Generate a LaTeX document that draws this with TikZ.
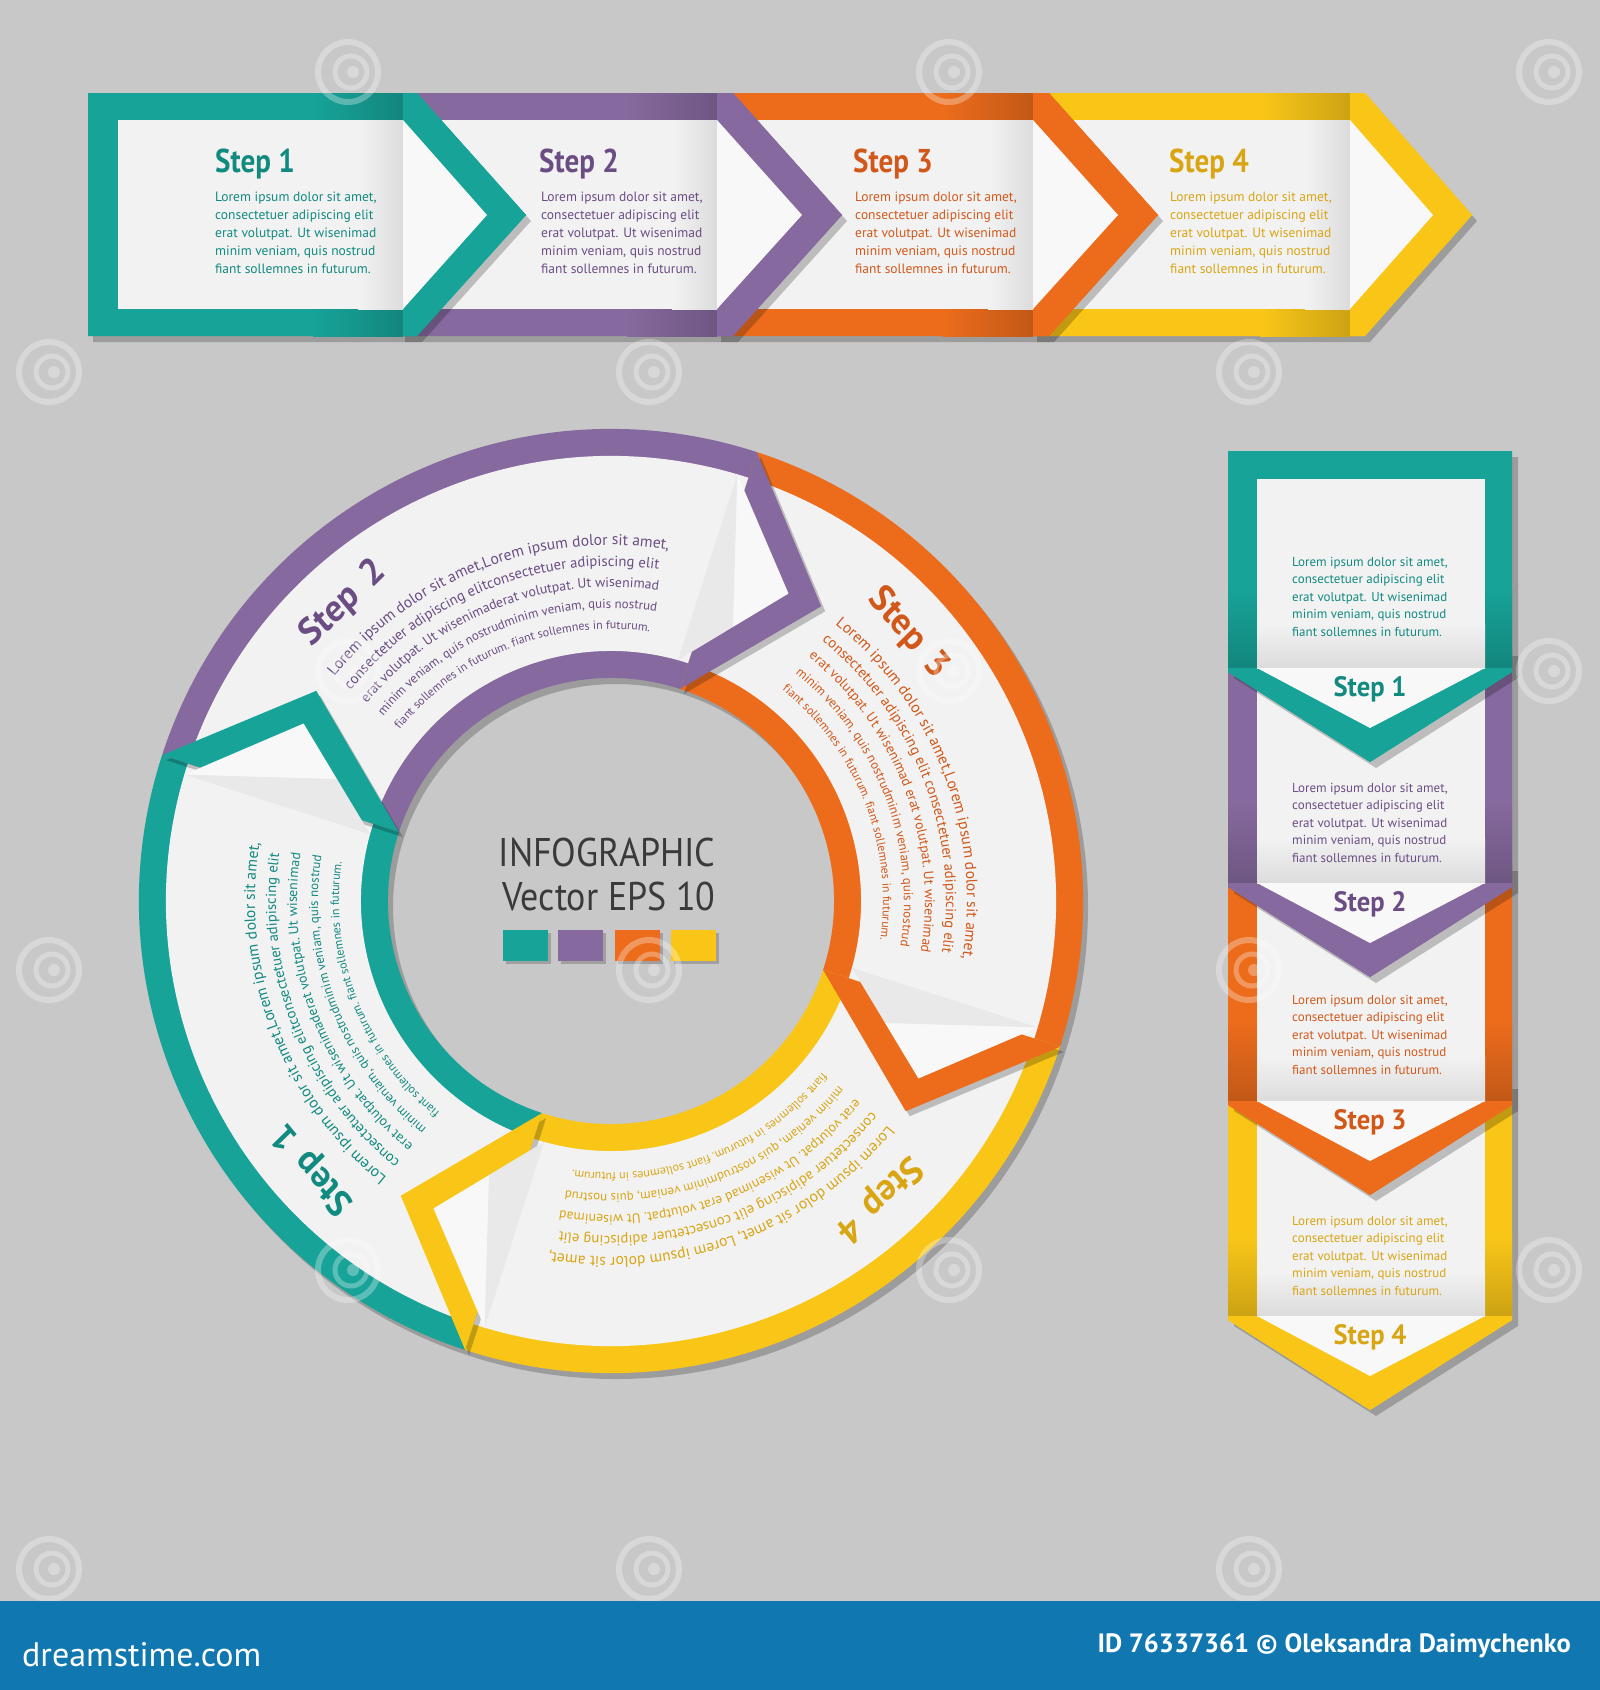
\documentclass[tikz,border=0pt]{standalone}
\usepackage{fontspec}
\setmainfont{PT Sans}
\usetikzlibrary{decorations.text}
\definecolor{bg}{HTML}{C8C8C8}
\definecolor{cteal}{HTML}{17A398}
\definecolor{cpurple}{HTML}{86699E}
\definecolor{corange}{HTML}{EC6C1C}
\definecolor{cyellow}{HTML}{F9C618}
\definecolor{tteal}{HTML}{118A80}
\definecolor{tpurple}{HTML}{6B4D84}
\definecolor{torange}{HTML}{D2581A}
\definecolor{tyellow}{HTML}{D9A513}
\definecolor{paper}{HTML}{F2F2F2}
\definecolor{paperlight}{HTML}{F8F8F8}
\definecolor{paperdark}{HTML}{DCDCDC}
\definecolor{banner}{HTML}{1077B0}
\definecolor{darktext}{HTML}{3A3A3A}
\newcommand\loremtext{Lorem ipsum dolor sit amet,\\consectetuer adipiscing elit\\erat volutpat. Ut wisenimad\\minim veniam, quis nostrud\\fiant sollemnes in futurum.}
\newcommand\ringline[5]{\path[decorate,decoration={text along path,text align=left,text={|\fontsize{#3}{#3}\selectfont\color{#4}|#5}}] (#1:#2) arc[start angle=#1,end angle=#1-100,radius=#2];}
\newcommand\wmark[2]{\draw[white,opacity=.3,line width=6] (#1,-#2) circle (30);\draw[white,opacity=.3,line width=5] (#1+3,-#2) circle (16);\fill[white,opacity=.3] (#1+5,-#2) circle (6);}
\tikzset{
  steplbl/.style={font=\bfseries\fontsize{33}{33}\selectfont, inner sep=0pt, xscale=.88},
  bodytxt/.style={anchor=north west, align=left, inner sep=0pt, font=\fontsize{13.5}{18}\selectfont},
  vlbl/.style={font=\bfseries\fontsize{28}{28}\selectfont, inner sep=0pt, xscale=.95, anchor=base},
  vtxt/.style={anchor=north west, align=left, inner sep=0pt, font=\fontsize{13}{17.5}\selectfont},
  rlbl/.style={font=\bfseries\fontsize{38}{38}\selectfont, inner sep=0pt, xscale=.92},
  shadowfill/.style={fill=black, opacity=.22}
}
\begin{document}
\begin{tikzpicture}[x=1pt,y=1pt]
\useasboundingbox (0,0) rectangle (1600,-1690);
\fill[bg] (0,0) rectangle (1600,-1690);

% ---------------- top banner ----------------
\foreach \c/\L/\IL/\O/\T/\I/\Ti in {cyellow/1032/1032/1365/1472/1350/1433, corange/716/716/1049/1158/1033/1118, cpurple/400/400/733/842/717/802, cteal/88/118/417/526/403/487}{
  \fill[shadowfill] (\L+5,-99) -- (\O+5,-99) -- (\T+5,-221) -- (\O+5,-342) -- (\L+5,-342) -- cycle;
  \fill[\c] (\L,-93) -- (\O,-93) -- (\T,-215) -- (\O,-336) -- (\L,-336) -- cycle;
  \shade[left color=\c, right color=\c!82!black] (\I-90,-93) rectangle (\I,-120);
  \shade[left color=\c, right color=\c!82!black] (\I-90,-309) rectangle (\I,-336);
  \fill[\c] (\I,-93) -- (\O,-93) -- (\T,-215) -- (\O,-336) -- (\I,-336) -- (\I,-309) -- (\Ti,-215) -- (\I,-120) -- cycle;
  \fill[paper] (\IL,-120) rectangle (\I,-309);
  \shade[left color=paper, right color=paperdark] (\I-45,-120) rectangle (\I,-309);
  \fill[paperlight] (\I,-120) -- (\Ti,-215) -- (\I,-309) -- cycle;
}
\node[steplbl, text=tteal, anchor=base west] (hs1) at (215,-172) {Step 1};
\node[steplbl, text=tpurple, anchor=base west] (hs2) at (539,-172) {Step 2};
\node[steplbl, text=torange, anchor=base west] (hs3) at (853,-172) {Step 3};
\node[steplbl, text=tyellow, anchor=base west] (hs4) at (1169,-172) {Step 4};
\node[bodytxt, text=tteal] (hb1) at (215,-192) {\loremtext};
\node[bodytxt, text=tpurple] (hb2) at (541,-192) {\loremtext};
\node[bodytxt, text=torange] (hb3) at (855,-192) {\loremtext};
\node[bodytxt, text=tyellow] (hb4) at (1170,-192) {\loremtext};

% ---------------- vertical panel ----------------
\foreach \c/\Y/\Yi/\L in {cyellow/1083/1083/1316, corange/865/865/1101, cpurple/650/650/883, cteal/451/479/668}{
  \fill[shadowfill] (1234,-\Y-6) -- (1518,-\Y-6) -- (1518,-\L-10) -- (1376,-\L-100) -- (1234,-\L-10) -- cycle;
  \fill[\c] (1228,-\Y) -- (1512,-\Y) -- (1512,-\L-4) -- (1370,-\L-94) -- (1228,-\L-4) -- cycle;
  \shade[top color=\c, bottom color=\c!82!black] (1228,-\L+80) rectangle (1257,-\L);
  \shade[top color=\c, bottom color=\c!82!black] (1485,-\L+80) rectangle (1512,-\L);
  \fill[\c] (1228,-\L) -- (1257,-\L) -- (1370,-\L-60) -- (1485,-\L) -- (1512,-\L) -- (1512,-\L-4) -- (1370,-\L-94) -- (1228,-\L-4) -- cycle;
  \fill[paper] (1257,-\Yi) rectangle (1485,-\L);
  \shade[top color=paper, bottom color=paperdark] (1257,-\L+45) rectangle (1485,-\L);
  \fill[paperlight] (1257,-\L) -- (1485,-\L) -- (1370,-\L-60) -- cycle;
}
\node[vlbl, text=tteal] (vs1) at (1370,-696) {Step 1};
\node[vlbl, text=tpurple] (vs2) at (1370,-911) {Step 2};
\node[vlbl, text=torange] (vs3) at (1370,-1129) {Step 3};
\node[vlbl, text=tyellow] (vs4) at (1370,-1344) {Step 4};
\node[vtxt, text=tteal] (vb1) at (1292,-557) {\loremtext};
\node[vtxt, text=tpurple] (vb2) at (1292,-783) {\loremtext};
\node[vtxt, text=torange] (vb3) at (1292,-995) {\loremtext};
\node[vtxt, text=tyellow] (vb4) at (1292,-1216) {\loremtext};

% ---------------- ring ----------------
\begin{scope}[shift={(611,-901)}]
  \fill[shadowfill, even odd rule, shift={(5,-6)}] (0,0) circle (472) (0,0) circle (223);
  \foreach \c/\a/\b in {cteal/252/162, cpurple/162/72, corange/72/-18, cyellow/-18/-108}{
    \fill[\c] (\a:472) arc[start angle=\a, end angle=\b, radius=472] -- (\b:223) arc[start angle=\b, end angle=\a, radius=223] -- cycle;
    \fill[paper] (\a:445) arc[start angle=\a, end angle=\b, radius=445] -- (\b:250) arc[start angle=\b, end angle=\a, radius=250] -- cycle;
  }
  % text lines
  \ringline{231}{356}{15.6}{tteal}{Lorem ipsum dolor sit amet,Lorem ipsum dolor sit amet,}
  \ringline{231}{335}{14.7}{tteal}{consectetuer adipiscing elitconsectetuer adipiscing elit}
  \ringline{231}{314}{13.8}{tteal}{erat volutpat. Ut wisenimaderat volutpat. Ut wisenimad}
  \ringline{231}{293}{12.9}{tteal}{minim veniam, quis nostrudminim veniam, quis nostrud}
  \ringline{231}{272}{12.0}{tteal}{fiant sollemnes in futurum.  fiant sollemnes in futurum.}
  \ringline{141}{356}{15.6}{tpurple}{Lorem ipsum dolor sit amet,Lorem ipsum dolor sit amet,}
  \ringline{141}{335}{14.7}{tpurple}{consectetuer adipiscing elitconsectetuer adipiscing elit}
  \ringline{141}{314}{13.8}{tpurple}{erat volutpat. Ut wisenimaderat volutpat. Ut wisenimad}
  \ringline{141}{293}{12.9}{tpurple}{minim veniam, quis nostrudminim veniam, quis nostrud}
  \ringline{141}{272}{12.0}{tpurple}{fiant sollemnes in futurum. fiant sollemnes in futurum.}
  \ringline{51}{356}{15.6}{torange}{Lorem ipsum dolor sit amet,Lorem ipsum dolor sit amet,}
  \ringline{51}{335}{14.7}{torange}{consectetuer adipiscing elit consectetuer adipiscing elit}
  \ringline{51}{314}{13.8}{torange}{erat volutpat. Ut wisenimad erat volutpat. Ut wisenimad}
  \ringline{51}{293}{12.9}{torange}{minim veniam, quis nostrudminim veniam, quis nostrud}
  \ringline{51}{272}{12.0}{torange}{fiant sollemnes in futurum.  fiant sollemnes in futurum.}
  \ringline{-39}{356}{15.6}{tyellow}{Lorem ipsum dolor sit amet, Lorem ipsum dolor sit amet,}
  \ringline{-39}{335}{14.7}{tyellow}{consectetuer adipiscing elit consectetuer adipiscing elit}
  \ringline{-39}{314}{13.8}{tyellow}{erat volutpat. Ut wisenimad erat volutpat. Ut wisenimad}
  \ringline{-39}{293}{12.9}{tyellow}{minim veniam, quis nostrudminim veniam, quis nostrud}
  \ringline{-39}{272}{12.0}{tyellow}{fiant sollemnes in futurum.  fiant sollemnes in futurum.}
  % heads
  \foreach \c/\b in {cteal/162, cpurple/72, corange/-18, cyellow/-108}{
    \fill[shadowfill, shift={(4,-5)}] (\b:472) -- (\b-17.5:362) -- (\b:223) -- cycle;
    \fill[\c] (\b:472) -- (\b-17.5:362) -- (\b:223) -- cycle;
    \fill[paperlight] (\b+1.5:445) -- (\b-12:355) -- (\b+2.5:250) -- cycle;
    \fill[black, opacity=.06] (\b+1.5:445) -- (\b-6:300) -- (\b+2.5:250) -- cycle;
  }
  \node[rlbl, text=tteal, rotate=132] (rs1) at (222:400) {Step\hspace{.4em}1};
  \node[rlbl, text=tpurple, rotate=42] (rs2) at (132:400) {Step\hspace{.4em}2};
  \node[rlbl, text=torange, rotate=-48] (rs3) at (42:400) {Step\hspace{.4em}3};
  \node[rlbl, text=tyellow, rotate=-138] (rs4) at (-48:400) {Step\hspace{.4em}4};
\end{scope}

% centre
\node[font=\fontsize{40}{40}\selectfont, text=darktext, xscale=.9, inner sep=0pt] (info) at (607,-852) {INFOGRAPHIC};
\node[font=\fontsize{40}{40}\selectfont, text=darktext, xscale=.9, inner sep=0pt] (eps) at (609,-896) {Vector EPS 10};
\foreach \c/\x in {cteal/503, cpurple/558, corange/615, cyellow/671}{
  \fill[black,opacity=.2] (\x+3,-933) rectangle (\x+48,-964);
  \fill[\c] (\x,-930) rectangle (\x+45,-961);
}

% watermarks
\foreach \x/\y in {348/72, 949/72, 1549/72, 49/372, 649/372, 1249/372, 348/671, 949/671, 1549/671, 49/970, 649/970, 1249/970, 348/1270, 949/1270, 1549/1270, 49/1569, 649/1569, 1249/1569}{
  \wmark{\x}{\y}
}

% bottom banner
\fill[banner] (0,-1601) rectangle (1600,-1690);
\node[font=\fontsize{34}{34}\selectfont, text=white, anchor=west, inner sep=0pt] (dt) at (22,-1655) {dreamstime.com};
\node[font=\bfseries\fontsize{26.5}{26.5}\selectfont, text=white, anchor=east, inner sep=0pt] (id) at (1571,-1646) {ID 76337361 © Oleksandra Daimychenko};
\end{tikzpicture}
\end{document}
